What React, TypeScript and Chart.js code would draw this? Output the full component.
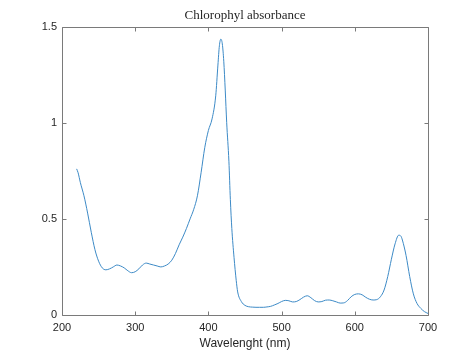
import React, { useEffect, useRef } from "react";
import { Chart, registerables } from "chart.js";

Chart.register(...registerables);

const wavelengths = [
  220, 222, 225, 230, 235, 240, 245, 250, 255, 260, 265, 270, 275, 280, 285, 290, 295, 300,
  305, 310, 315, 320, 325, 330, 335, 340, 345, 350, 355, 360, 365, 370, 375, 380, 385, 390,
  395, 400, 405, 410, 413, 415, 417, 419, 421, 423, 425, 428, 430, 432, 435, 438, 440, 445,
  450, 455, 460, 465, 470, 475, 480, 485, 490, 495, 500, 505, 510, 515, 520, 525, 530, 535,
  540, 545, 550, 555, 560, 565, 570, 575, 580, 585, 590, 595, 600, 605, 610, 615, 620, 625,
  630, 635, 640, 645, 650, 655, 660, 663, 665, 670, 675, 680, 685, 690, 695, 700,
];

const absorbance = [
  0.76, 0.74, 0.69, 0.62, 0.53, 0.43, 0.34, 0.28, 0.245, 0.235, 0.24, 0.25, 0.26, 0.255, 0.245, 0.23, 0.22, 0.225,
  0.24, 0.26, 0.27, 0.265, 0.26, 0.255, 0.25, 0.255, 0.265, 0.285, 0.32, 0.365, 0.405, 0.45, 0.5, 0.55, 0.62, 0.74,
  0.87, 0.96, 1.02, 1.14, 1.3, 1.4, 1.435, 1.41, 1.32, 1.17, 1.0, 0.8, 0.6, 0.45, 0.3, 0.18, 0.12, 0.07,
  0.05, 0.043, 0.041, 0.04, 0.04, 0.04, 0.042, 0.045, 0.052, 0.06, 0.07, 0.076, 0.074, 0.068, 0.07, 0.08, 0.093, 0.1,
  0.09, 0.075, 0.068, 0.07, 0.077, 0.078, 0.074, 0.068, 0.062, 0.063, 0.075, 0.095, 0.107, 0.11, 0.105, 0.092, 0.082, 0.078,
  0.08, 0.095, 0.13, 0.2, 0.29, 0.37, 0.415, 0.41, 0.39, 0.31, 0.2, 0.11, 0.06, 0.035, 0.018, 0.008,
];

const xTicks = [200, 300, 400, 500, 600, 700];
const yTicks = [0, 0.5, 1, 1.5];

const TEXT = "#262626";
const AXIS = "#7a7a7a";

const boxPlugin = {
  id: "matlabBox",
  afterDraw(chart: any) {
    const { ctx, chartArea } = chart;
    const xs = chart.scales.x;
    const ys = chart.scales.y;
    const L = 4;
    ctx.save();
    ctx.strokeStyle = AXIS;
    ctx.lineWidth = 1;
    ctx.beginPath();
    const l = Math.round(chartArea.left) + 0.5;
    const r = Math.round(chartArea.right) + 0.5;
    const t = Math.round(chartArea.top) + 0.5;
    const b = Math.round(chartArea.bottom) + 0.5;
    ctx.rect(l, t, r - l, b - t);
    for (const v of xTicks) {
      const px = Math.round(xs.getPixelForValue(v)) + 0.5;
      ctx.moveTo(px, b);
      ctx.lineTo(px, b - L);
      ctx.moveTo(px, t);
      ctx.lineTo(px, t + L);
    }
    for (const v of yTicks) {
      const py = Math.round(ys.getPixelForValue(v)) + 0.5;
      ctx.moveTo(l, py);
      ctx.lineTo(l + L, py);
      ctx.moveTo(r, py);
      ctx.lineTo(r - L, py);
    }
    ctx.stroke();
    ctx.restore();
  },
};

export default function App() {
  const ref = useRef<HTMLCanvasElement | null>(null);
  useEffect(() => {
    if (!ref.current) return;
    const chart = new Chart(ref.current, {
      type: "line",
      data: {
        datasets: [
          {
            data: wavelengths.map((w, i) => ({ x: w, y: absorbance[i] })),
            borderColor: "#3d8ac6",
            borderWidth: 1,
            pointRadius: 0,
            fill: false,
            cubicInterpolationMode: "monotone",
          },
        ],
      },
      options: {
        responsive: false,
        animation: false,
        layout: { padding: { left: 0, right: 46, top: 0, bottom: 0 } },
        plugins: {
          legend: { display: false },
          tooltip: { enabled: false },
          title: {
            display: true,
            text: "Chlorophyl absorbance",
            fullSize: false,
            color: TEXT,
            font: { family: "'Liberation Serif', 'Times New Roman', serif", size: 13, weight: "normal", lineHeight: 1.2 },
            padding: { top: 8, bottom: 3 },
          },
        },
        scales: {
          x: {
            type: "linear",
            min: 200,
            max: 700,
            afterFit: (s: any) => {
              s.height = 40;
            },
            afterBuildTicks: (s: any) => {
              s.ticks = xTicks.map((v) => ({ value: v }));
            },
            grid: { display: false, drawTicks: false },
            border: { display: false },
            ticks: {
              color: TEXT,
              padding: 6,
              maxRotation: 0,
              callback: (v: any) => String(v),
              font: { family: "'Liberation Sans', Arial, sans-serif", size: 11 },
            },
            title: {
              display: true,
              text: "Wavelenght (nm)",
              color: TEXT,
              font: { family: "'Liberation Sans', Arial, sans-serif", size: 12 },
              padding: { top: 0, bottom: 4 },
            },
          },
          y: {
            type: "linear",
            min: 0,
            max: 1.5,
            afterFit: (s: any) => {
              s.width = 62;
            },
            afterBuildTicks: (s: any) => {
              s.ticks = yTicks.map((v) => ({ value: v }));
            },
            grid: { display: false, drawTicks: false },
            border: { display: false },
            ticks: {
              color: TEXT,
              padding: 5,
              callback: (v: any) => String(v),
              font: { family: "'Liberation Sans', Arial, sans-serif", size: 11 },
            },
          },
        },
      },
      plugins: [boxPlugin],
    } as any);
    return () => chart.destroy();
  }, []);
  return (
    <div style={{ position: "absolute", left: 0, top: 0, width: 474, height: 355, background: "#fff" }}>
      <canvas ref={ref} width={474} height={355} style={{ display: "block" }} />
    </div>
  );
}
